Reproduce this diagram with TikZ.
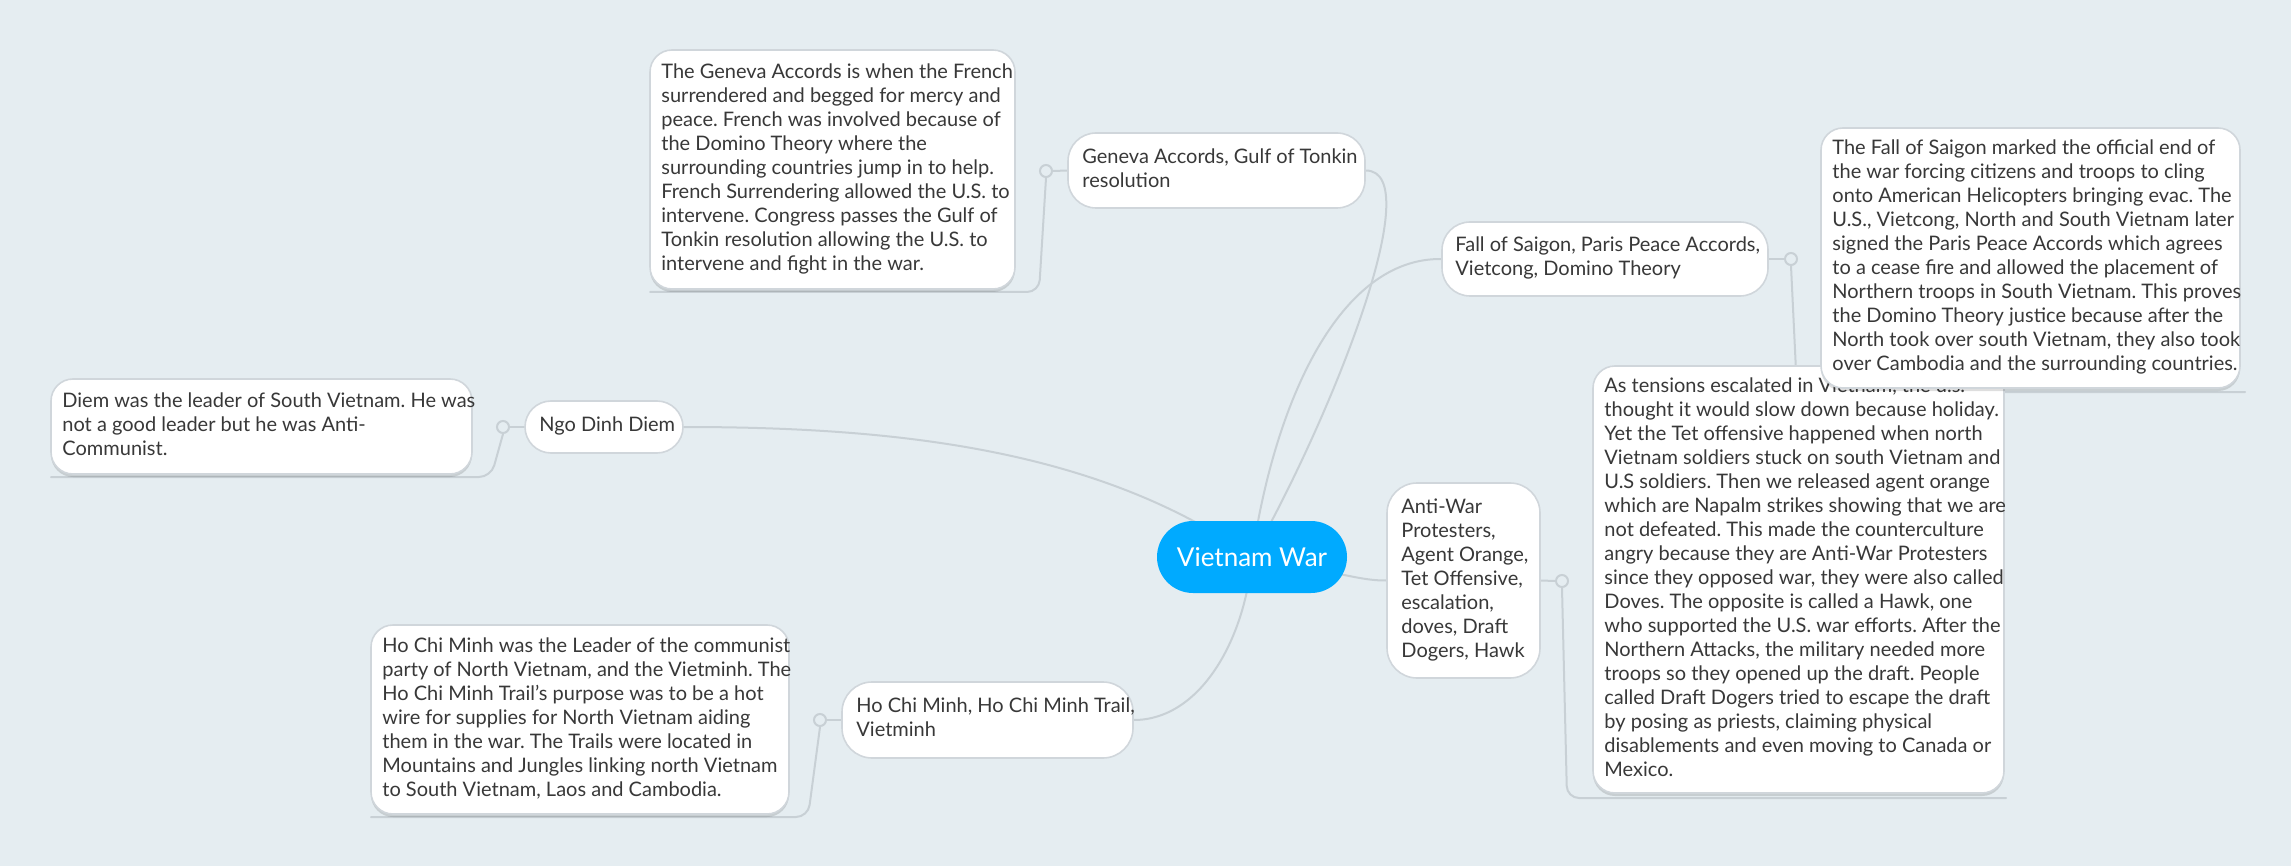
\documentclass[tikz,border=0pt]{standalone}
\usepackage{fontspec}
\setmainfont{Lato}
\usetikzlibrary{shadows}
\definecolor{bgc}{RGB}{229,237,241}
\definecolor{connc}{RGB}{200,208,213}
\definecolor{bordc}{RGB}{208,214,219}
\definecolor{txtc}{RGB}{56,56,56}
\definecolor{mainc}{RGB}{0,170,255}
\pgfdeclarelayer{back}
\pgfdeclarelayer{lines}
\pgfsetlayers{back,lines,main}
\frenchspacing
\begin{document}
\begin{tikzpicture}[x=1pt,y=-1pt,
  box/.style={draw=bordc, line width=1.6pt, fill=white, inner sep=0pt, rounded corners=28pt},
  subbox/.style={box},
  detail/.style={box, rounded corners=22pt,
     drop shadow={shadow xshift=0pt, shadow yshift=-3pt, opacity=0.13, fill=black}},
  txt/.style={font=\fontsize{20}{24}\selectfont, text=txtc, align=left, inner sep=0pt, anchor=west},
  conn/.style={draw=connc, line width=2pt, line cap=round},
  dot/.style={circle, draw=connc, line width=2pt, fill=bgc, minimum size=12pt, inner sep=0pt}]
\useasboundingbox (0,0) rectangle (2291,866);
\begin{pgfonlayer}{back}
\fill[bgc] (0,0) rectangle (2291,866);
\end{pgfonlayer}

% central
\node[fill=mainc, rounded corners=36pt, minimum width=190pt, minimum height=72pt, inner sep=0pt,
  text=white, font=\fontsize{26}{30}\selectfont] (vw) at (1252,557) {Vietnam War};

% subtopics
\node[subbox, minimum width=297pt, minimum height=75pt] (gsub) at (1216.5,170.5) {};
\node[txt] (gsubt) at ([xshift=15pt]gsub.west) {\strut Geneva Accords, Gulf of Tonkin\\resolution\strut};

\node[subbox, minimum width=326pt, minimum height=74pt] (ssub) at (1605,259) {};
\node[txt] (ssubt) at ([xshift=14pt]ssub.west) {\strut Fall of Saigon, Paris Peace Accords,\\Vietcong, Domino Theory\strut};

\node[subbox, rounded corners=30pt, minimum width=153pt, minimum height=195pt] (asub) at (1463.5,580.5) {};
\node[txt] (asubt) at ([xshift=15pt]asub.west) {\strut Anti-War\\Protesters,\\Agent Orange,\\Tet Offensive,\\escalation,\\doves, Draft\\Dogers, Hawk\strut};

\node[subbox, rounded corners=26pt, minimum width=158pt, minimum height=52pt] (dsub) at (604,427) {};
\node[txt] (dsubt) at ([xshift=15pt]dsub.west) {\strut Ngo Dinh Diem\strut};

\node[subbox, rounded corners=30pt, minimum width=291pt, minimum height=76pt] (hsub) at (987.5,720) {};
\node[txt] (hsubt) at ([xshift=15pt]hsub.west) {\strut Ho Chi Minh, Ho Chi Minh Trail,\\Vietminh\strut};

% detail boxes
\node[detail, minimum width=365pt, minimum height=239pt] (gdet) at (832.5,169.5) {};
\node[txt] (gdett) at ([xshift=12pt]gdet.west) {\strut The Geneva Accords is when the French\\surrendered and begged for mercy and\\peace. French was involved because of\\the Domino Theory where the\\surrounding countries jump in to help.\\French Surrendering allowed the U.S. to\\intervene. Congress passes the Gulf of\\Tonkin resolution allowing the U.S. to\\intervene and fight in the war.\strut};

\node[detail, minimum width=421pt, minimum height=95pt] (ddet) at (261.5,426.5) {};
\node[txt] (ddett) at ([xshift=12pt]ddet.west) {\strut Diem was the leader of South Vietnam. He was\\not a good leader but he was Anti-\\Communist.\strut};

\node[detail, minimum width=418pt, minimum height=189pt] (hdet) at (580,719.5) {};
\node[txt] (hdett) at ([xshift=12pt]hdet.west) {\strut Ho Chi Minh was the Leader of the communist\\party of North Vietnam, and the Vietminh. The\\Ho Chi Minh Trail's purpose was to be a hot\\wire for supplies for North Vietnam aiding\\them in the war. The Trails were located in\\Mountains and Jungles linking north Vietnam\\to South Vietnam, Laos and Cambodia.\strut};

\node[detail, minimum width=411pt, minimum height=427pt] (adet) at (1798.5,579.5) {};
\node[txt] (adett) at ([xshift=12pt]adet.west) {\strut As tensions escalated in Vietnam, the u.s.\\thought it would slow down because holiday.\\Yet the Tet offensive happened when north\\Vietnam soldiers stuck on south Vietnam and\\U.S soldiers. Then we released agent orange\\which are Napalm strikes showing that we are\\not defeated. This made the counterculture\\angry because they are Anti-War Protesters\\since they opposed war, they were also called\\Doves. The opposite is called a Hawk, one\\who supported the U.S. war efforts. After the\\Northern Attacks, the military needed more\\troops so they opened up the draft. People\\called Draft Dogers tried to escape the draft\\by posing as priests, claiming physical\\disablements and even moving to Canada or\\Mexico.\strut};

\node[detail, minimum width=419pt, minimum height=260pt] (sdet) at (2030.5,258) {};
\node[txt] (sdett) at ([xshift=12pt]sdet.west) {\strut The Fall of Saigon marked the official end of\\the war forcing citizens and troops to cling\\onto American Helicopters bringing evac. The\\U.S., Vietcong, North and South Vietnam later\\signed the Paris Peace Accords which agrees\\to a cease fire and allowed the placement of\\Northern troops in South Vietnam. This proves\\the Domino Theory justice because after the\\North took over south Vietnam, they also took\\over Cambodia and the surrounding countries.\strut};

% circles
\node[dot] (gc) at (1046,171) {};
\node[dot] (sc) at (1791,259) {};
\node[dot] (ac) at (1562,581) {};
\node[dot] (dc) at (503,427) {};
\node[dot] (hc) at (820,720) {};

% underline end points
\coordinate (gu) at (650,292);
\coordinate (su) at (2245,392);
\coordinate (au) at (2006,798);
\coordinate (du) at (51,477);
\coordinate (hu) at (371,817);

\begin{pgfonlayer}{lines}
% central to subtopics
\draw[conn] (gsub.east) .. controls (1430,171) and (1330,420) .. (vw.center);
\draw[conn] (ssub.west) .. controls (1340,258) and (1275,400) .. (vw.center);
\draw[conn] (asub.west) .. controls (1360,581) and (1330,570) .. (vw.center);
\draw[conn] (dsub.east) .. controls (900,427) and (1100,450) .. (vw.center);
\draw[conn] (hsub.east) .. controls (1200,720) and (1245,640) .. (vw.center);
% subtopic to circles
\draw[conn] (gc.east) -- (gsub.west);
\draw[conn] (sc.west) -- (ssub.east);
\draw[conn] (ac.west) -- (asub.east);
\draw[conn] (dc.east) -- (dsub.west);
\draw[conn] (hc.east) -- (hsub.west);
% circles to details
\draw[conn, rounded corners=12pt] (gc.south) -- (1039,292) -- (gu);
\draw[conn, rounded corners=12pt] (sc.south) -- (1797,392) -- (su);
\draw[conn, rounded corners=12pt] (ac.south) -- (1567,798) -- (au);
\draw[conn, rounded corners=12pt] (dc.south) -- (491,477) -- (du);
\draw[conn, rounded corners=12pt] (hc.south) -- (808,817) -- (hu);
\end{pgfonlayer}
\end{tikzpicture}
\end{document}
